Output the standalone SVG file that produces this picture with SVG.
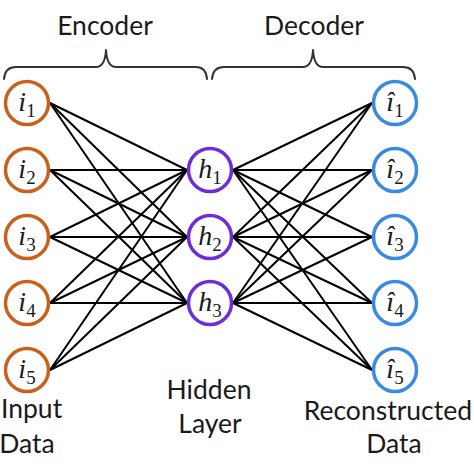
<svg xmlns="http://www.w3.org/2000/svg" width="474" height="474" viewBox="0 0 474 474">
<style>
.lbl{font-family:Lato,"Open Sans","Liberation Sans",sans-serif;font-size:26.5px;fill:#1a1a1a;text-anchor:middle}
.math{font-family:"Liberation Serif","DejaVu Serif",serif;font-size:28px;font-style:italic;fill:#1a1a1a;text-anchor:middle}
.sub{font-style:normal;font-size:19px}
.in{fill:#fff;stroke:#C8611C;stroke-width:3.5}
.hid{fill:#fff;stroke:#6B2ED8;stroke-width:3.5}
.out{fill:#fff;stroke:#3A8AE0;stroke-width:3.5}
.brace{fill:none;stroke:#333;stroke-width:2;stroke-linecap:round;stroke-linejoin:round}
#connectors line{stroke:#000;stroke-width:2}
</style>
<rect width="474" height="474" fill="#fff"/>
<g id="connectors">
<line x1="50" y1="103" x2="187" y2="170"/><line x1="50" y1="103" x2="187" y2="237"/><line x1="50" y1="103" x2="187" y2="303"/>
<line x1="50" y1="170" x2="187" y2="170"/><line x1="50" y1="170" x2="187" y2="237"/><line x1="50" y1="170" x2="187" y2="303"/>
<line x1="50" y1="237" x2="187" y2="170"/><line x1="50" y1="237" x2="187" y2="237"/><line x1="50" y1="237" x2="187" y2="303"/>
<line x1="50" y1="303" x2="187" y2="170"/><line x1="50" y1="303" x2="187" y2="237"/><line x1="50" y1="303" x2="187" y2="303"/>
<line x1="50" y1="370" x2="187" y2="170"/><line x1="50" y1="370" x2="187" y2="237"/><line x1="50" y1="370" x2="187" y2="303"/>
<line x1="233" y1="170" x2="372" y2="103"/><line x1="233" y1="170" x2="372" y2="170"/><line x1="233" y1="170" x2="372" y2="237"/><line x1="233" y1="170" x2="372" y2="303"/><line x1="233" y1="170" x2="372" y2="370"/>
<line x1="233" y1="237" x2="372" y2="103"/><line x1="233" y1="237" x2="372" y2="170"/><line x1="233" y1="237" x2="372" y2="237"/><line x1="233" y1="237" x2="372" y2="303"/><line x1="233" y1="237" x2="372" y2="370"/>
<line x1="233" y1="303" x2="372" y2="103"/><line x1="233" y1="303" x2="372" y2="170"/><line x1="233" y1="303" x2="372" y2="237"/><line x1="233" y1="303" x2="372" y2="303"/><line x1="233" y1="303" x2="372" y2="370"/>
</g>
<g id="encoder-brace">
<path class="brace" d="M4,79 Q5,67 16,67 L96,67 Q105,67 106,50 Q107,67 116,67 L196,67 Q206,67 207,79"/>
<text class="lbl" x="105" y="35">Encoder</text>
</g>
<g id="decoder-brace">
<path class="brace" d="M212,79 Q213,67 224,67 L303,67 Q312,67 313,50 Q314,67 323,67 L403,67 Q414,67 415,79"/>
<text class="lbl" x="314" y="35">Decoder</text>
</g>
<g id="i1"><circle class="in" cx="27" cy="103" r="21.5"/><text class="math" x="27" y="111">i<tspan class="sub" dy="6">1</tspan></text></g>
<g id="i2"><circle class="in" cx="27" cy="170" r="21.5"/><text class="math" x="27" y="178">i<tspan class="sub" dy="6">2</tspan></text></g>
<g id="i3"><circle class="in" cx="27" cy="237" r="21.5"/><text class="math" x="27" y="245">i<tspan class="sub" dy="6">3</tspan></text></g>
<g id="i4"><circle class="in" cx="27" cy="303" r="21.5"/><text class="math" x="27" y="311">i<tspan class="sub" dy="6">4</tspan></text></g>
<g id="i5"><circle class="in" cx="27" cy="370" r="21.5"/><text class="math" x="27" y="378">i<tspan class="sub" dy="6">5</tspan></text></g>
<g id="h1"><circle class="hid" cx="210" cy="170" r="21.5"/><text class="math" x="210" y="178">h<tspan class="sub" dy="6">1</tspan></text></g>
<g id="h2"><circle class="hid" cx="210" cy="237" r="21.5"/><text class="math" x="210" y="245">h<tspan class="sub" dy="6">2</tspan></text></g>
<g id="h3"><circle class="hid" cx="210" cy="303" r="21.5"/><text class="math" x="210" y="311">h<tspan class="sub" dy="6">3</tspan></text></g>
<g id="o1"><circle class="out" cx="395" cy="103" r="21.5"/><text class="math" x="395" y="111">î<tspan class="sub" dy="6">1</tspan></text></g>
<g id="o2"><circle class="out" cx="395" cy="170" r="21.5"/><text class="math" x="395" y="178">î<tspan class="sub" dy="6">2</tspan></text></g>
<g id="o3"><circle class="out" cx="395" cy="237" r="21.5"/><text class="math" x="395" y="245">î<tspan class="sub" dy="6">3</tspan></text></g>
<g id="o4"><circle class="out" cx="395" cy="303" r="21.5"/><text class="math" x="395" y="311">î<tspan class="sub" dy="6">4</tspan></text></g>
<g id="o5"><circle class="out" cx="395" cy="370" r="21.5"/><text class="math" x="395" y="378">î<tspan class="sub" dy="6">5</tspan></text></g>
<g id="input-label"><text class="lbl" x="1" y="418" style="text-anchor:start">Input</text><text class="lbl" x="27" y="453">Data</text></g>
<g id="hidden-label"><text class="lbl" x="209" y="399">Hidden</text><text class="lbl" x="210" y="433">Layer</text></g>
<g id="output-label"><text class="lbl" x="472" y="420" style="text-anchor:end">Reconstructed</text><text class="lbl" x="394" y="453">Data</text></g>
</svg>
